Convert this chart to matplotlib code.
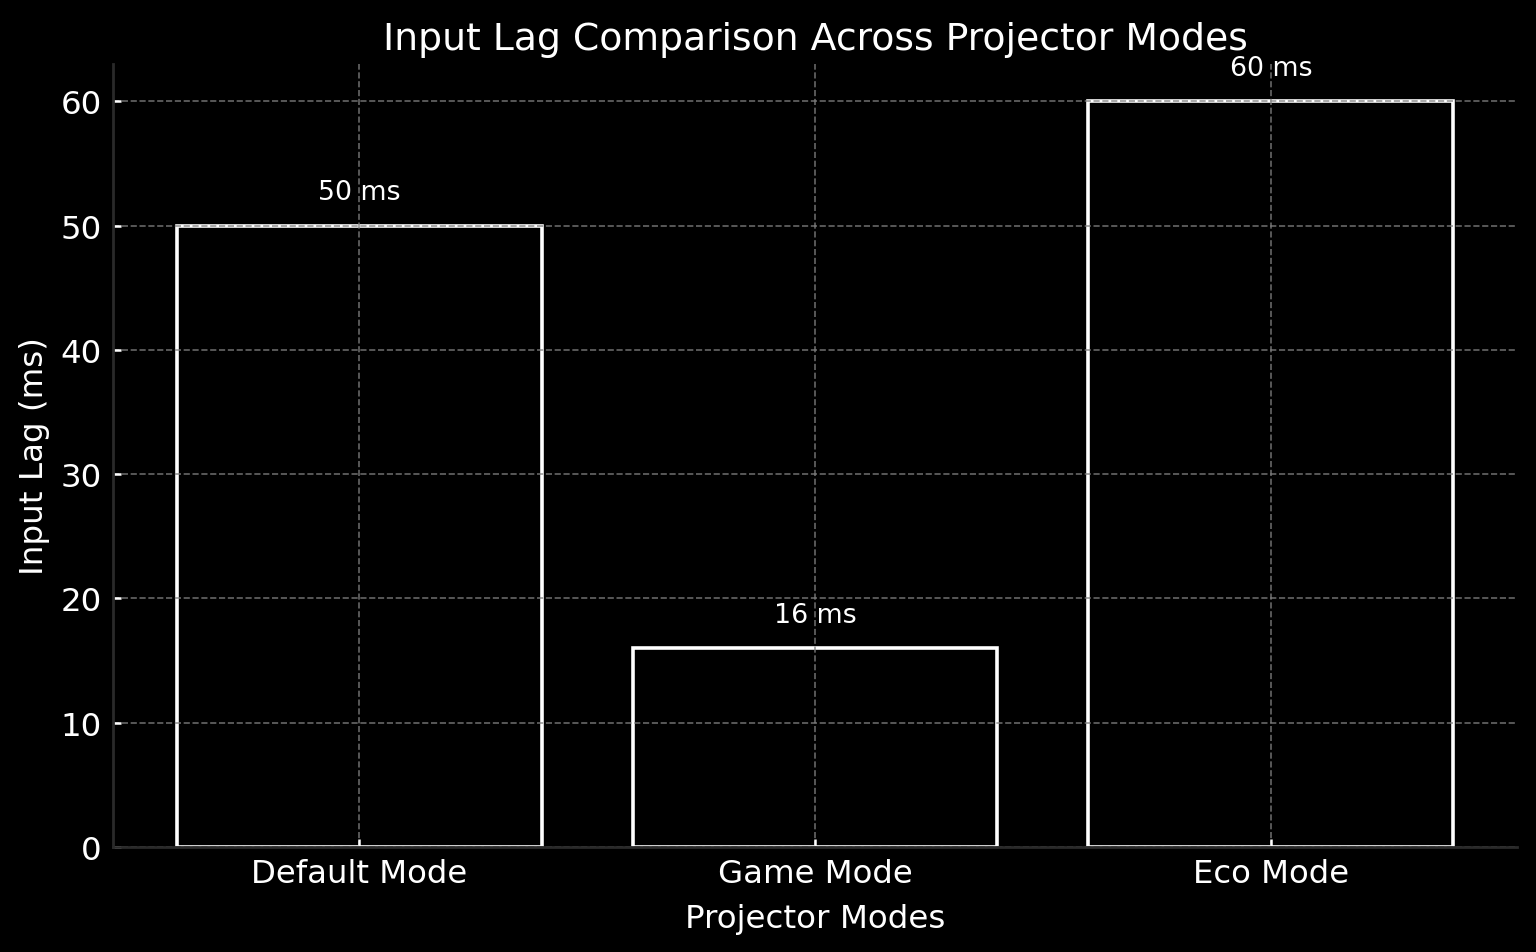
import matplotlib
matplotlib.use("Agg")
import matplotlib.pyplot as plt

# Datos del gráfico
modes = ["Default Mode", "Game Mode", "Eco Mode"]
input_lag = [50, 16, 60]
labels = ["50 ms", "16 ms", "60 ms"]

plt.style.use("dark_background")

fig = plt.figure(figsize=(15.36, 9.53), dpi=100)
ax = fig.add_axes([0.0736, 0.1102, 0.914, 0.8216])

bars = ax.bar(modes, input_lag, width=0.8, color="black", edgecolor="white", linewidth=2.6)

# Etiquetas sobre cada barra
for i, v in enumerate(input_lag):
    ax.text(i, v + 1.65, labels[i], ha="center", va="bottom", color="white", fontsize=19.3)

ax.set_title("Input Lag Comparison Across Projector Modes", fontsize=27.2, pad=11)
ax.set_xlabel("Projector Modes", fontsize=23.4, labelpad=10)
ax.set_ylabel("Input Lag (ms)", fontsize=23.4, labelpad=8)
ax.tick_params(labelsize=23.3, length=6, width=1.8, colors="white", direction="in", pad=8)
ax.grid(True, linestyle="--", color="gray", alpha=0.8, linewidth=1.2)

for side in ["top", "right"]:
    ax.spines[side].set_visible(False)
for side in ["left", "bottom"]:
    ax.spines[side].set_color("#2a2a2a")
    ax.spines[side].set_linewidth(2)

fig.savefig("out.png", dpi=100, facecolor="black")
